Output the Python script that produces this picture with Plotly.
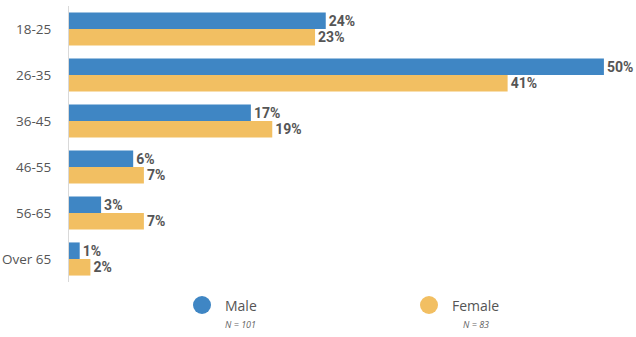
import plotly.graph_objects as go

categories = ["18-25", "26-35", "36-45", "46-55", "56-65", "Over 65"]
male = [24, 50, 17, 6, 3, 1]
female = [23, 41, 19, 7, 7, 2]
series_names = ["Male", "Female"]
series_n = ["N = 101", "N = 83"]
colors = ["#3F86C4", "#F2BF62"]

W, H = 636, 337
ML, MR, MT, MB = 69, 0, 6, 55
PW, PH = W - ML - MR, H - MT - MB

label_font = dict(family="Roboto", size=14, color="#555555")

fig = go.Figure()
for name, vals, col in zip(series_names, [male, female], colors):
    fig.add_trace(go.Bar(
        y=categories, x=vals, orientation="h", name=name,
        marker=dict(color=col, line=dict(width=0)),
        text=[f"<b>{v}%</b>" for v in vals], textposition="outside",
        textfont=label_font, cliponaxis=False, showlegend=False,
    ))

def px_x(px):
    return (px - ML) / PW

def px_y(py):
    return (H - MB - py) / PH

shapes = []
annotations = []
legend_pos = [202, 429]
for name, n, col, cx in zip(series_names, series_n, colors, legend_pos):
    shapes.append(dict(type="circle", xref="paper", yref="paper",
                       xsizemode="pixel", ysizemode="pixel",
                       xanchor=px_x(cx), yanchor=px_y(305),
                       x0=-9, x1=9, y0=-9, y1=9,
                       fillcolor=col, line=dict(width=0)))
    annotations.append(dict(xref="paper", yref="paper", x=px_x(cx + 21), y=px_y(305),
                            xanchor="left", yanchor="middle", showarrow=False,
                            text=name, font=dict(family="Open Sans", size=14, color="#555555")))
    annotations.append(dict(xref="paper", yref="paper", x=px_x(cx + 21 + (17 if name == "Male" else 26)), y=px_y(324),
                            xanchor="center", yanchor="middle", showarrow=False,
                            text=f"<i>{n}</i>", font=dict(family="Open Sans", size=9, color="#666666")))

fig.update_layout(
    width=W, height=H,
    margin=dict(l=ML, r=MR, t=MT, b=MB),
    paper_bgcolor="white", plot_bgcolor="white",
    barmode="group", bargap=0.28, bargroupgap=0,
    xaxis=dict(range=[0, 53], visible=False, fixedrange=True),
    yaxis=dict(autorange="reversed", showline=True, linecolor="#d9d9d9", linewidth=1,
               showgrid=False, ticks="", ticklabelstandoff=14,
               tickfont=dict(family="Open Sans", size=13.5, color="#555555")),
    shapes=shapes, annotations=annotations,
    font=dict(family="Open Sans"),
)

fig.write_html("out.html")
